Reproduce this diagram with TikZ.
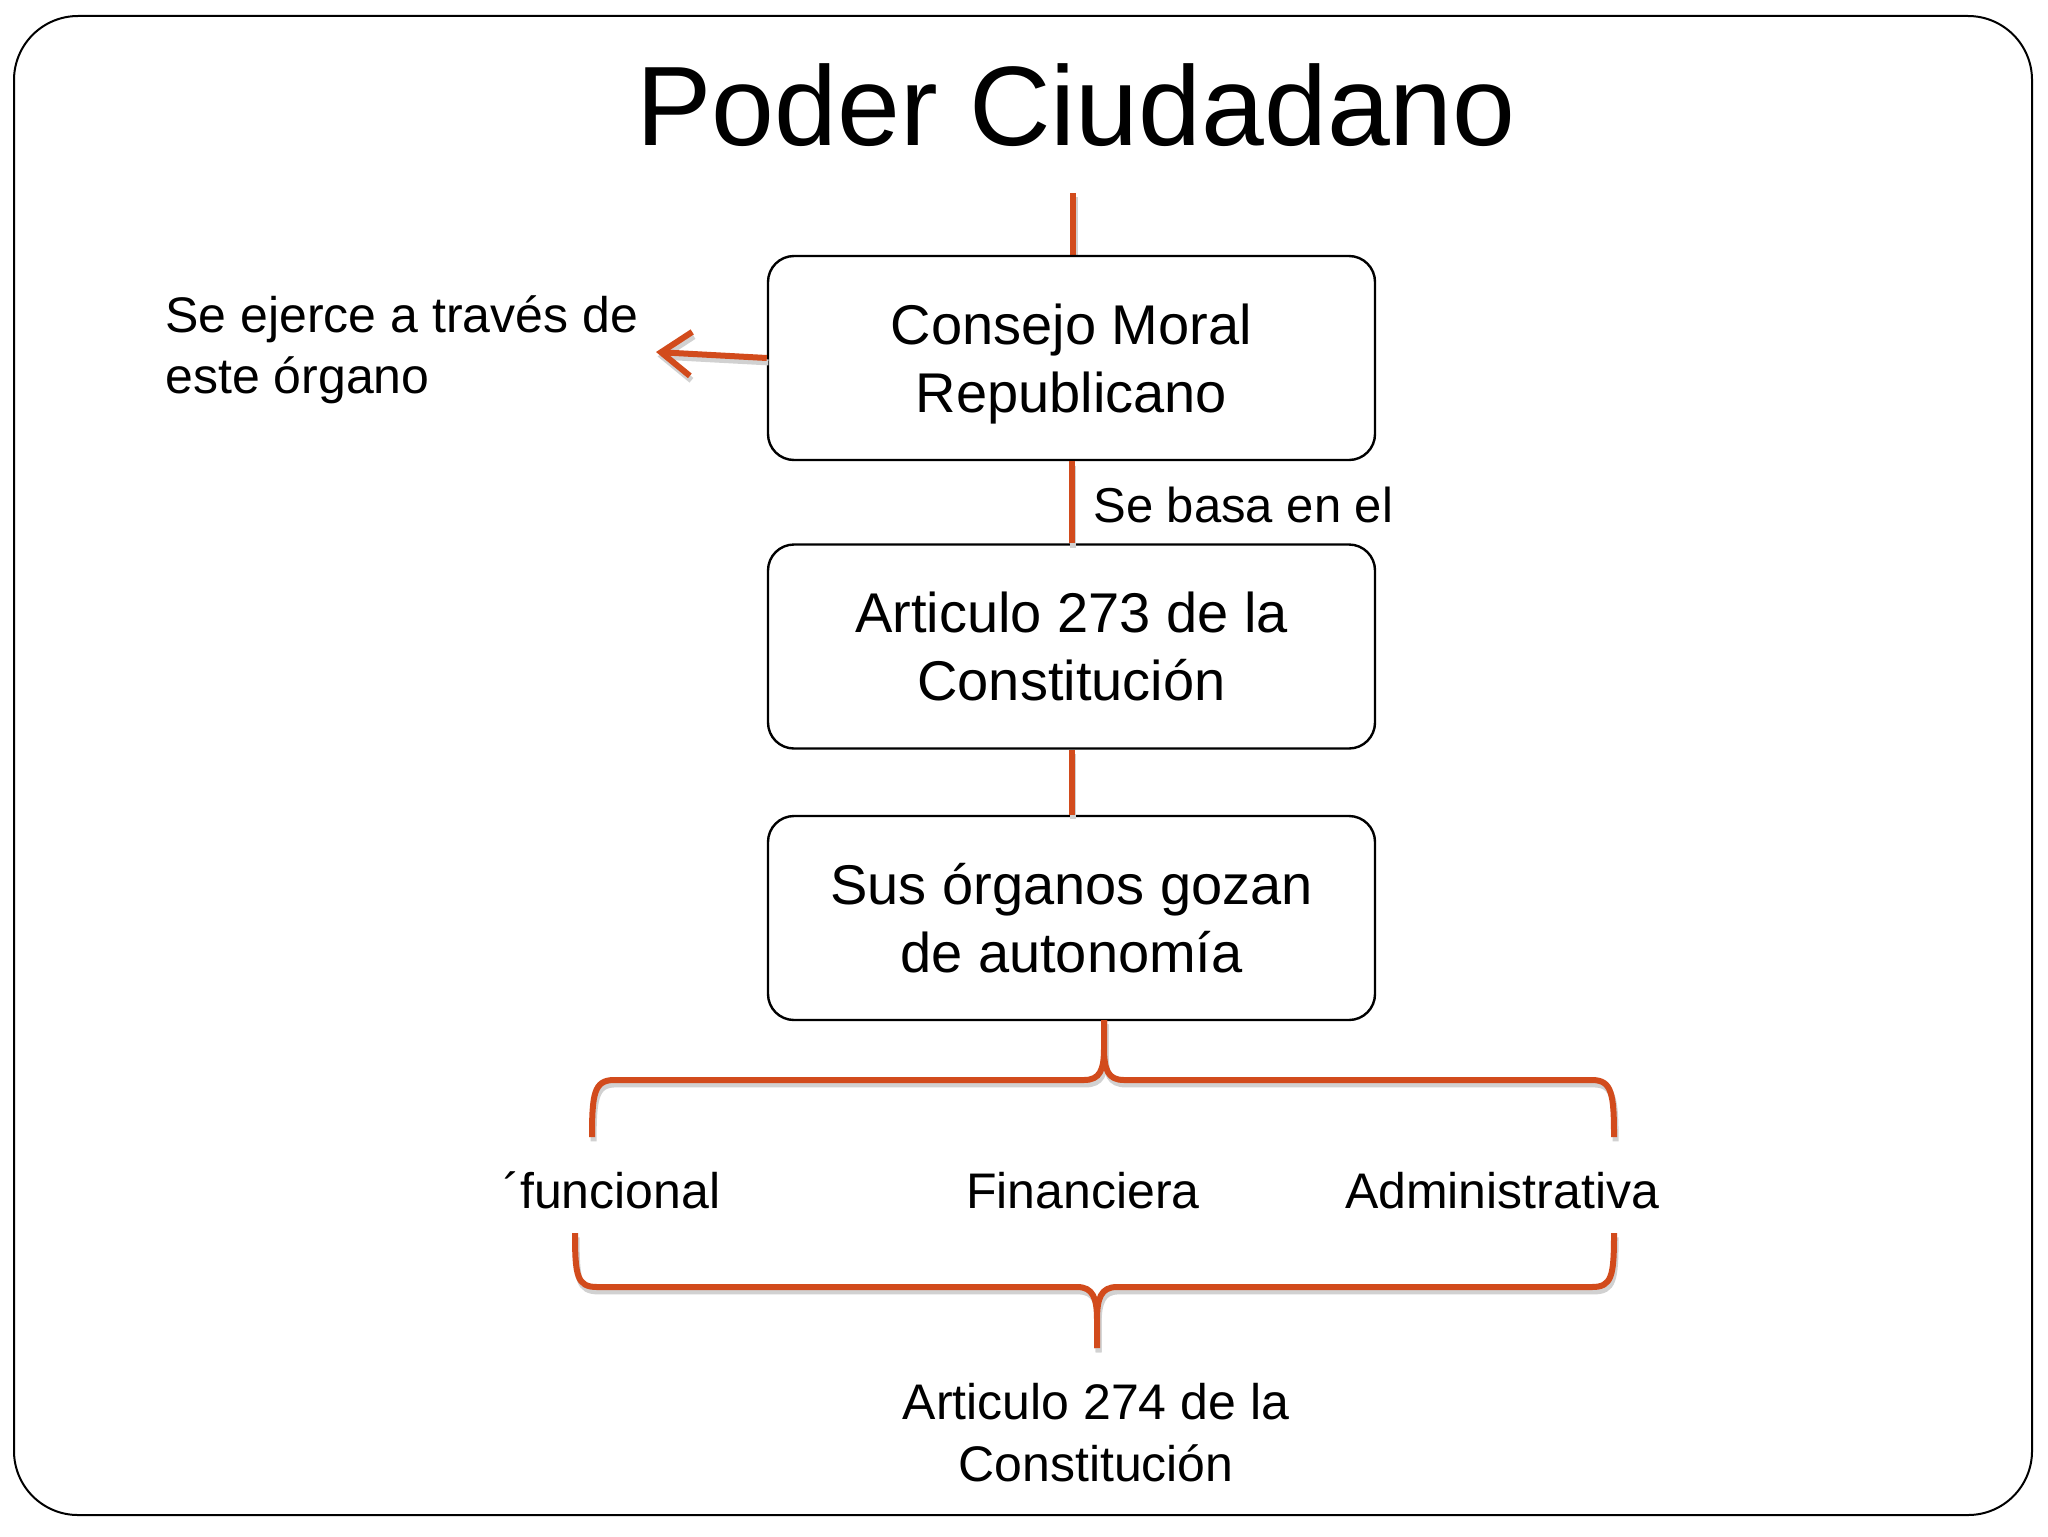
\documentclass[tikz,border=0pt]{standalone}
\usepackage{fontspec}
\setmainfont{Liberation Sans}
\usetikzlibrary{arrows.meta}
\definecolor{accent}{RGB}{210,75,28}
\newcommand{\lowr}[1]{\raisebox{-3pt}[\height][\depth]{#1}}
\begin{document}
\begin{tikzpicture}[x=0.5pt,y=-0.5pt,
 box/.style={draw=black, line width=1.2pt, rounded corners=13pt, fill=white,
   minimum width=303.5pt, minimum height=102pt, align=center,
   font=\fontsize{28}{34}\selectfont, inner sep=0pt},
 lbl/.style={font=\fontsize{25}{30.5}\selectfont, inner sep=0pt},
 conn/.style={draw=accent, line width=3pt,
   preaction={draw=black!18, line width=3pt, transform canvas={xshift=0.8pt,yshift=-2.2pt}}},
]
\useasboundingbox (0,0) rectangle (2048,1536);
\fill[white] (0,0) rectangle (2048,1536);
\draw[line width=1pt, rounded corners=32pt] (14,16) rectangle (2032,1515);

\node[font=\fontsize{56.5}{60}\selectfont, anchor=base, inner sep=0pt] (title) at (1076,145) {Poder Ciudadano};

\coordinate (top) at (1073,193);
\coordinate (tip) at (656,352);
\coordinate (ub) at (1104,1020);
\coordinate (lb) at (1097,1348);

% connectors first (boxes cover ends)
\draw[conn] (top) -- (1073,258);
\node[box] (b1) at (1071.5,358) {\lowr{Consejo Moral}\\\lowr{Republicano}};
\node[box] (b2) at (1071.5,646.5) {Articulo 273 de la\\Constitución};
\node[box] (b3) at (1071.5,918) {Sus órganos gozan\\de autonomía};

\draw[conn] (b1.south) -- (b2.north);
\draw[conn] (b2.south) -- (b3.north);
\draw[conn, -{Straight Barb[length=15pt,width=22pt]}] (b1.west) -- (tip);

\node[lbl, anchor=base west] (ej1) at (165,332) {Se ejerce a través de};
\node[lbl, anchor=base west] (ej2) at (165,393) {este órgano};
\node[lbl, font=\fontsize{24.5}{30}\selectfont, anchor=base west] (basa) at (1093,522) {Se basa en el};

% upper brace
\draw[conn, line join=round] (592,1137) .. controls (592,1094) and (594,1080) .. (614,1080)
  -- (1084,1080) .. controls (1100,1080) and (1104,1070) .. (1104,1048) -- (ub);
\draw[conn, line join=round] (1614,1137) .. controls (1614,1094) and (1612,1080) .. (1592,1080)
  -- (1124,1080) .. controls (1108,1080) and (1104,1070) .. (1104,1048) -- (ub);

\node[lbl, anchor=base] (fun) at (612,1208) {´funcional};
\node[lbl, anchor=base] (fin) at (1083,1208) {Financiera};
\node[lbl, anchor=base] (adm) at (1502,1208) {Administrativa};

% lower brace
\draw[conn, line join=round] (575,1233) .. controls (575,1276) and (577,1287) .. (597,1287)
  -- (1077,1287) .. controls (1093,1287) and (1097,1298) .. (1097,1320) -- (lb);
\draw[conn, line join=round] (1614,1233) .. controls (1614,1276) and (1612,1287) .. (1592,1287)
  -- (1117,1287) .. controls (1101,1287) and (1097,1298) .. (1097,1320) -- (lb);

\node[lbl, anchor=base] (art1) at (1096,1419) {Articulo 274 de la};
\node[lbl, anchor=base] (art2) at (1096,1481) {Constitución};
\end{tikzpicture}
\end{document}
